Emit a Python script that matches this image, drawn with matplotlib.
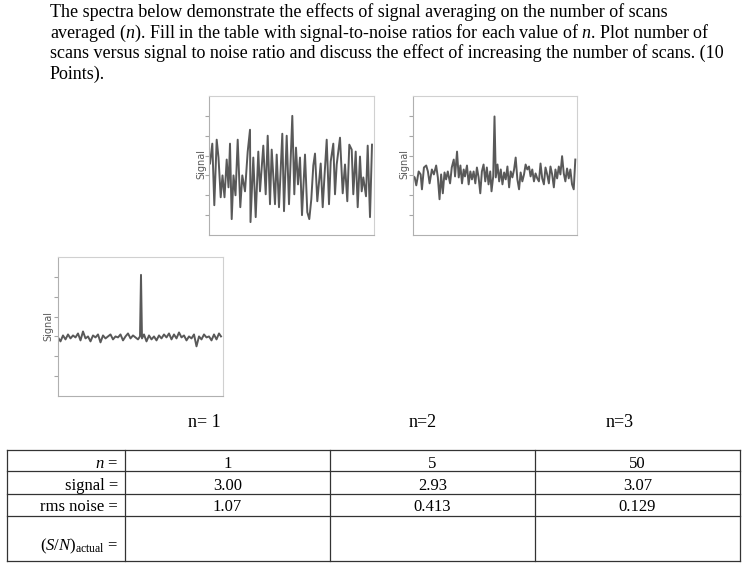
import matplotlib
matplotlib.use("Agg")
import matplotlib.pyplot as plt

plt.rcParams['font.family'] = ['Liberation Serif', 'DejaVu Serif']
plt.rcParams['mathtext.fontset'] = 'custom'
plt.rcParams['mathtext.rm'] = 'Liberation Serif'
plt.rcParams['mathtext.it'] = 'Liberation Serif:italic'

# question text
question = [
    "The spectra below demonstrate the effects of signal averaging on the number of scans",
    r"averaged ($\mathit{n}$). Fill in the table with signal-to-noise ratios for each value of $\mathit{n}$. Plot number of",
    "scans versus signal to noise ratio and discuss the effect of increasing the number of scans. (10",
    "Points).",
]

# spectrum n = 1 scan
scan1_x = [1, 3.3, 5.3, 7.7, 9.5, 11.7, 13.5, 15.5, 17.7, 19.5, 21, 22.7, 24.5, 26.5, 28.7,
           31.3, 33.3, 36, 38.7, 41, 41.5, 44.3, 46.7, 49.3, 51, 54.3, 56.7, 58.7, 61, 62.7,
           66, 67.7, 70, 73.3, 75, 77.7, 80, 83.3, 85.3, 87, 89, 91, 93, 96, 98.3, 100.3,
           102.3, 104.3, 106, 108.3, 111.7, 113.7, 115.3, 117.7, 120, 121.7, 124.3, 126,
           127.7, 131, 133.7, 136, 138.3, 140.3, 142.7, 144.3, 146.7, 148.7, 151, 152.7,
           154.3, 157, 158.7, 161, 163]
scan1_y = [3.6, 4.6, 1.5, 4.8, 3.9, 1.9, 3.0, 1.9, 3.8, 2.4, 4.6, 0.8, 3.0, 2.0, 4.8,
           1.4, 3.0, 2.2, 4.2, 5.3, 0.65, 3.9, 0.9, 4.2, 2.2, 4.5, 2.05, 5.0, 1.55, 4.3,
           1.55, 4.05, 1.4, 5.1, 1.2, 5.0, 1.55, 6.0, 2.05, 4.4, 2.55, 3.9, 1.0, 4.05, 1.15, 0.8,
           1.8, 3.5, 4.1, 1.7, 3.6, 1.4, 2.8, 4.8, 1.55, 3.7, 4.6, 2.05,
           3.55, 4.9, 2.1, 3.55, 1.7, 4.55, 4.3, 2.05, 4.2, 1.4, 3.95, 2.2,
           2.9, 1.95, 4.5, 0.9, 4.55]

# spectrum n = 5 scans
scan2_x = [0, 1.7, 3.3, 5.7, 7.7, 9, 11, 13.3, 15, 16.7, 19, 21, 23.3, 25, 26.7, 28.3, 30,
           31.7, 33.3, 35, 37.3, 39, 41, 42.3, 44.3, 46, 47.7, 49.3, 51, 52.3, 54.3, 56,
           57.7, 59.3, 61, 62.7, 64.3, 66, 67.7, 69.3, 71, 72.7, 74.3, 76, 77.7, 79, 80.7,
           82, 83.3, 85, 86.7, 88.3, 90, 91.7, 93.3, 95, 96.7, 98.3, 100, 101.7, 103.3,
           105, 106.7, 108.3, 110, 111.7, 113.3, 115, 116.7, 118.3, 120, 121.7, 123.3, 125,
           126.7, 128.3, 130, 131.7, 133.3, 135, 136.7, 138.3, 140, 141.7, 143.3, 145,
           146.7, 148.3, 150, 151.7, 153.3, 155, 156.7, 158.3, 160, 161.7, 163.3]
scan2_y = [2.97, 2.9, 2.5, 3.2, 3.05, 2.3, 3.4, 3.5, 3.2, 2.6, 3.3, 3.05, 3.5, 2.9, 1.8, 3.05, 2.1,
           3.15, 2.8, 3.2, 2.6, 3.4, 3.8, 2.95, 4.2, 2.9, 3.5, 2.6, 3.3, 2.95, 3.5, 2.55,
           3.2, 2.8, 3.2, 2.6, 3.4, 2.9, 2.1, 3.2, 3.55, 2.7, 3.4, 2.55, 3.2, 2.2, 2.95,
           5.97, 2.9, 3.55, 2.7, 3.3, 2.55, 3.15, 2.8, 3.45, 2.4, 3.2, 2.9, 3.3, 3.9,
           2.8, 2.3, 3.15, 2.7, 3.05, 3.55, 3.3, 3.45, 2.95, 3.3, 2.7, 3.1, 2.85,
           2.7, 3.6, 2.85, 2.55, 3.4, 3.05, 2.6, 3.45, 3.05, 2.4, 3.3, 2.85,
           3.45, 3.05, 3.97, 3.1, 2.7, 3.35, 2.85, 3.3, 2.55, 2.3, 3.8]

# spectrum n = 50 scans
scan3_x = [0, 2.5, 5, 7.5, 10, 12.5, 15, 17.5, 20, 22.5, 25, 27.5, 30, 32.5, 35, 37.5, 40,
           42.5, 45, 47.5, 50, 52.5, 55, 57.5, 60, 62.5, 65, 67.5, 70, 72.5, 75, 77.5, 80,
           82, 83, 84, 86, 88.5, 91, 93.5, 96, 98.5, 101, 103.5, 106, 108.5, 111, 113.5,
           116, 118.5, 121, 123.5, 126, 128.5, 131, 133.5, 136, 138.5, 141, 143.5, 146,
           148.5, 151, 153.5, 156, 158.5, 161, 163]
scan3_y = [2.95, 2.75, 3.05, 2.85, 3.1, 2.9, 3.05, 2.95, 3.15, 2.8, 3.25, 2.9, 3.0, 2.75, 3.05, 2.95, 3.1,
           2.7, 3.05, 2.9, 3.0, 3.1, 2.85, 3.0, 2.95, 3.1, 2.8, 3.0, 3.15, 2.9, 3.05, 2.95, 2.85,
           3.0, 6.1, 2.9, 3.1, 2.75, 3.05, 2.85, 3.0, 2.8, 3.05, 2.9, 3.1, 2.95, 3.15, 2.85,
           3.1, 2.9, 3.2, 2.95, 3.05, 2.8, 3.0, 2.9, 3.1, 2.5, 3.0, 2.85, 3.1,
           2.95, 3.0, 2.8, 3.1, 2.85, 3.15, 3.0]

# table
col_labels = ["n= 1", "n=2", "n=3"]
row_labels = [r"$\mathit{n}$ =", "signal =", "rms noise =", r"$(\mathit{S/N})_{\mathrm{actual}}$ ="]
n_values = ["1", "5", "50"]
signal = ["3.00", "2.93", "3.07"]
rms_noise = ["1.07", "0.413", "0.129"]

W, H = 745, 566
fig = plt.figure(figsize=(W / 100, H / 100), dpi=100)

# page layer in pixel coordinates
bg = fig.add_axes([0, 0, 1, 1])
bg.set_xlim(0, W)
bg.set_ylim(H, 0)
bg.axis('off')

for i, line in enumerate(question):
    bg.text(50, 17 + 20.5 * i, line, fontsize=13, va='baseline', ha='left')


def px_axes(x0, y0, x1, y1):
    return fig.add_axes([x0 / W, 1 - y1 / H, (x1 - x0) / W, (y1 - y0) / H])


def spectrum(box, xs, ys, label_pos):
    ax = px_axes(*box)
    ax.plot(xs, ys, color='#595959', lw=1.4)
    ax.set_xlim(0, 165)
    ax.set_ylim(0, 7)
    ax.set_xticks([])
    ax.set_yticks([1, 2, 3, 4, 5, 6])
    ax.set_yticklabels([])
    ax.tick_params(axis='y', direction='out', length=3, width=0.8, color='#a6a6a6')
    for s in ax.spines.values():
        s.set_color('#d0d0d0')
        s.set_linewidth(0.8)
    ax.spines['left'].set_color('#b0b0b0')
    ax.spines['bottom'].set_color('#b0b0b0')
    bg.text(label_pos[0], label_pos[1], "Signal", rotation=90, ha='center', va='center',
            fontsize=7, color='#595959', family='DejaVu Sans')
    return ax


spectrum((209, 96, 374, 235), scan1_x, scan1_y, (201, 164))
spectrum((413, 96, 577, 235), scan2_x, scan2_y, (404, 164))
spectrum((58, 257, 223, 396), scan3_x, scan3_y, (48, 326))

# column captions
for cx, lab in zip([204, 423, 620], col_labels):
    bg.text(cx, 427, lab, fontsize=13, ha='center', va='baseline')

# table grid
row_y = [450, 471, 494, 516, 561]
col_x = [7, 125, 330, 535, 740]
for y in row_y:
    bg.plot([col_x[0], col_x[-1]], [y, y], color='#333333', lw=0.9)
for x in col_x:
    bg.plot([x, x], [row_y[0], row_y[-1]], color='#333333', lw=0.9)

baselines = [468, 490, 511, 550]
for lab, yb in zip(row_labels, baselines):
    bg.text(118, yb, lab, fontsize=12, ha='right', va='baseline')

centers = [(col_x[i] + col_x[i + 1]) / 2 for i in range(1, 4)]
for row, yb in zip([n_values, signal, rms_noise], baselines[:3]):
    for cx, val in zip(centers, row):
        bg.text(cx, yb, val, fontsize=12, ha='center', va='baseline')

fig.savefig("out.png", dpi=100)
